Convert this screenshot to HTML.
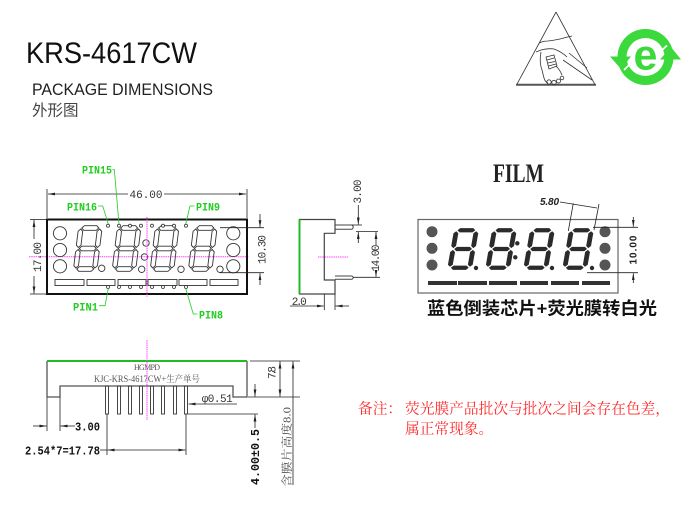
<!DOCTYPE html>
<html><head><meta charset="utf-8">
<style>
html,body{margin:0;padding:0;background:#fff;}
svg{display:block;}
.m{font-family:"Liberation Mono","Noto Serif CJK SC",monospace;font-size:11px;fill:#333;}
.b{font-family:"Liberation Mono",monospace;font-weight:bold;font-size:12px;fill:#111;}
.g{font-family:"Liberation Mono",monospace;font-weight:bold;font-size:11px;fill:#22cc22;}
.dl{stroke:#222;stroke-width:0.8;fill:none;}
</style></head><body>
<svg width="686" height="507" viewBox="0 0 686 507" xmlns="http://www.w3.org/2000/svg">
<defs>
<marker id="ar" viewBox="0 0 10 4" refX="10" refY="2" markerWidth="7" markerHeight="2.8" markerUnits="userSpaceOnUse" orient="auto-start-reverse">
<path d="M0,0 L10,2 L0,4 z" fill="#222"/></marker>
<g id="d">
<polygon points="3.5,2.5 5.8,0.2 18.2,0.2 20.5,2.5 18.2,4.8 5.8,4.8"/>
<polygon points="3.5,23 5.8,20.7 18.2,20.7 20.5,23 18.2,25.3 5.8,25.3"/>
<polygon points="3.5,43.5 5.8,41.2 18.2,41.2 20.5,43.5 18.2,45.8 5.8,45.8"/>
<polygon points="2.5,3.5 4.8,5.8 4.8,19.7 2.5,22 0.2,19.7 0.2,5.8"/>
<polygon points="21.5,3.5 23.8,5.8 23.8,19.7 21.5,22 19.2,19.7 19.2,5.8"/>
<polygon points="2.5,24 4.8,26.3 4.8,40.2 2.5,42.5 0.2,40.2 0.2,26.3"/>
<polygon points="21.5,24 23.8,26.3 23.8,40.2 21.5,42.5 19.2,40.2 19.2,26.3"/>
</g>
</defs>
<rect width="686" height="507" fill="#fff"/>

<!-- Title -->
<text x="26" y="63" font-family="Liberation Sans, sans-serif" font-size="30" fill="#111" textLength="171" lengthAdjust="spacingAndGlyphs">KRS-4617CW</text>
<text x="32" y="95" font-family="Liberation Sans, sans-serif" font-size="16.3" fill="#222" textLength="181" lengthAdjust="spacingAndGlyphs">PACKAGE DIMENSIONS</text>
<text x="32" y="115.5" font-family="Liberation Sans, 'Noto Sans CJK SC', sans-serif" font-size="15.5" fill="#444">外形图</text>

<!-- ESD icon -->
<g fill="none" stroke="#333" stroke-width="0.8">
<path d="M556,12 L516.7,84.7 M556,12 L595,84.7"/>
<path d="M516,84.7 L596,84.7" stroke-width="2" stroke="#555"/>
<path d="M539.3,43 Q543,41 548,41 Q556,40 562,38.5 Q567,37 572,36"/>
<path d="M536,52 L541,50 Q548,48 554,49 Q562,52 567,57"/>
<path d="M563,60 L592,80 M569,53 L587,68"/>
<path d="M541,52 Q539,62 542,70 L544,78 Q545,82 548,83"/>
<path d="M546,57 L554,55 L557,66 L549,69 Z M547,60 L554,58 M548,63 L555,61.5 M548.5,66 L556,64"/>
<path d="M556,66 Q560,70 562,75"/>
<circle cx="549" cy="82" r="2.2"/><circle cx="554" cy="82.5" r="2.2"/><circle cx="558.5" cy="81" r="2"/><circle cx="562" cy="78" r="1.8"/>
</g>

<!-- Green e icon -->
<circle cx="645.5" cy="57" r="28" fill="#3bd93b"/>
<circle cx="645.5" cy="57" r="19" fill="#fff"/>
<polygon points="610,56.5 631,56.5 621,69" fill="#3bd93b"/>
<polygon points="660,59.5 681,59.5 671,47" fill="#3bd93b"/>
<path d="M624,70 L631,63 M667,45.5 L660,52" stroke="#fff" stroke-width="1.8"/>
<text x="645.5" y="69.5" text-anchor="middle" font-family="Liberation Sans, sans-serif" font-weight="bold" font-size="43" fill="#3bd93b">e</text>

<!-- FRONT VIEW -->
<line x1="29" y1="256.7" x2="249" y2="256.7" stroke="#ff44ff" stroke-width="1" stroke-dasharray="1.5,0.7"/>
<rect x="47" y="219.5" width="200" height="74.5" fill="none" stroke="#111" stroke-width="2"/>
<g fill="none" stroke="#333" stroke-width="0.9">
<circle cx="60" cy="233.3" r="6.6"/><circle cx="60" cy="250" r="6.6"/><circle cx="60" cy="266.3" r="6.6"/>
<circle cx="233.3" cy="233.3" r="6.6"/><circle cx="233.3" cy="250" r="6.6"/><circle cx="233.3" cy="266.3" r="6.6"/>
<use href="#d" transform="translate(78.6,225.5) skewX(-7)"/>
<use href="#d" transform="translate(117.4,225.5) skewX(-7)"/>
<use href="#d" transform="translate(155.4,225.5) skewX(-7)"/>
<use href="#d" transform="translate(193.6,225.5) skewX(-7)"/>
<circle cx="101.7" cy="268.3" r="3.2"/><circle cx="141.7" cy="269.3" r="3.2"/><circle cx="181" cy="269.3" r="3.2"/><circle cx="220" cy="269.3" r="3.2"/>
<circle cx="146" cy="243" r="3.2"/><circle cx="144.5" cy="257" r="3.2"/>
<rect x="55" y="279.5" width="29" height="6"/><rect x="87" y="279.5" width="28" height="6"/><rect x="118" y="279.5" width="28" height="6"/>
<rect x="148" y="279.5" width="29" height="6"/><rect x="179" y="279.5" width="28" height="6"/><rect x="210" y="279.5" width="28" height="6"/>
</g>
<g fill="#fff" stroke="#333" stroke-width="0.8">
<circle cx="108" cy="225.7" r="1.5"/><circle cx="119" cy="225.7" r="1.5"/><circle cx="130" cy="225.7" r="1.5"/><circle cx="141" cy="225.7" r="1.5"/>
<circle cx="152" cy="225.7" r="1.5"/><circle cx="163" cy="225.7" r="1.5"/><circle cx="174" cy="225.7" r="1.5"/><circle cx="186" cy="225.7" r="1.5"/>
<circle cx="108" cy="287" r="1.5"/><circle cx="119" cy="287" r="1.5"/><circle cx="130" cy="287" r="1.5"/><circle cx="141" cy="287" r="1.5"/>
<circle cx="152" cy="287" r="1.5"/><circle cx="163" cy="287" r="1.5"/><circle cx="174" cy="287" r="1.5"/><circle cx="186" cy="287" r="1.5"/>
</g>
<line x1="147" y1="217" x2="147" y2="297" stroke="#ff44ff" stroke-width="1" stroke-dasharray="1.5,0.7"/>

<!-- front dims -->
<g class="dl">
<line x1="47" y1="189" x2="47" y2="218"/><line x1="247" y1="189" x2="247" y2="218"/>
<line x1="128" y1="194" x2="48" y2="194" marker-end="url(#ar)"/>
<line x1="164" y1="194" x2="246" y2="194" marker-end="url(#ar)"/>
<line x1="30" y1="219.5" x2="46" y2="219.5"/><line x1="30" y1="294" x2="46" y2="294"/>
<line x1="34" y1="239" x2="34" y2="220" marker-end="url(#ar)"/>
<line x1="34" y1="276" x2="34" y2="293.5" marker-end="url(#ar)"/>
<line x1="220" y1="227.7" x2="264" y2="227.7"/><line x1="220" y1="272.7" x2="264" y2="272.7"/>
<line x1="260" y1="214" x2="260" y2="227.2" marker-end="url(#ar)"/>
<line x1="260" y1="285" x2="260" y2="273.2" marker-end="url(#ar)"/>
</g>
<text class="m" x="146" y="198" text-anchor="middle" textLength="33">46.00</text>
<text class="m" transform="translate(39,257) rotate(-90)" text-anchor="middle" dominant-baseline="central" textLength="30">17.00</text>
<text class="m" transform="translate(263.5,249.5) rotate(-90)" text-anchor="middle" dominant-baseline="central" textLength="29">10.30</text>

<!-- PIN labels -->
<g stroke="#22cc22" stroke-width="0.8" fill="none">
<polyline points="112.5,169.5 114.3,169.5 119,224"/>
<polyline points="98,206 102.7,206 108.3,224"/>
<polyline points="194.5,206 190,206 185.7,224"/>
<polyline points="99,305.7 105,305.7 108.3,288.5"/>
<polyline points="197.5,314 193.3,314 185.7,288.5"/>
</g>
<text class="g" x="82" y="173.5" textLength="30" lengthAdjust="spacingAndGlyphs">PIN15</text>
<text class="g" x="67" y="210.5" textLength="30" lengthAdjust="spacingAndGlyphs">PIN16</text>
<text class="g" x="196" y="210.5" textLength="24" lengthAdjust="spacingAndGlyphs">PIN9</text>
<text class="g" x="73" y="310.5" textLength="25" lengthAdjust="spacingAndGlyphs">PIN1</text>
<text class="g" x="199" y="318.5" textLength="24" lengthAdjust="spacingAndGlyphs">PIN8</text>

<!-- SIDE VIEW -->
<line x1="318" y1="257" x2="348" y2="257" stroke="#ff44ff" stroke-width="1" stroke-dasharray="1.5,0.7"/>
<path d="M299,219.5 L335,219.5 L335,233.3 L324.3,233.3 L324.3,280 L335,280 L335,294 L299,294" fill="none" stroke="#444" stroke-width="1.2"/>
<line x1="299.5" y1="219.5" x2="299.5" y2="294" stroke="#22bb22" stroke-width="2"/>
<path d="M335,225 L352,225 Q354.5,227.2 352,229.3 L335,229.3" fill="none" stroke="#444" stroke-width="1"/>
<path d="M335,276 L352,276 Q354.5,277.7 352,279.3 L335,279.3" fill="none" stroke="#444" stroke-width="1"/>
<g class="dl">
<line x1="351.7" y1="225" x2="362" y2="225"/>
<line x1="356" y1="231.5" x2="378" y2="231.5"/>
<line x1="353" y1="277.3" x2="380" y2="277.3"/>
<line x1="358.3" y1="205" x2="358.3" y2="224.5" marker-end="url(#ar)"/>
<line x1="358.3" y1="243" x2="358.3" y2="232" marker-end="url(#ar)"/>
<line x1="376" y1="245" x2="376" y2="232" marker-end="url(#ar)"/>
<line x1="376" y1="271" x2="376" y2="276.8" marker-end="url(#ar)"/>
<line x1="324.3" y1="294" x2="324.3" y2="310"/><line x1="335" y1="294" x2="335" y2="310"/>
<line x1="290" y1="306" x2="323.8" y2="306" marker-end="url(#ar)"/>
<line x1="349" y1="306" x2="335.5" y2="306" marker-end="url(#ar)"/>
</g>
<text class="m" transform="translate(359,191.5) rotate(-90)" text-anchor="middle" dominant-baseline="central" textLength="24">3.00</text>
<text class="m" transform="translate(377,258) rotate(-90)" text-anchor="middle" dominant-baseline="central" textLength="27">14.00</text>
<text class="m" x="291.7" y="305" textLength="15">2.0</text>

<!-- FILM -->
<text x="493" y="182" font-family="Liberation Serif, serif" font-weight="bold" font-size="26" fill="#222" textLength="51" lengthAdjust="spacingAndGlyphs">FILM</text>
<rect x="418" y="219.5" width="200" height="73.5" fill="none" stroke="#666" stroke-width="1.2"/>
<g fill="#555">
<circle cx="432" cy="231.7" r="5.5"/><circle cx="432" cy="248.3" r="5.5"/><circle cx="432" cy="265" r="5.5"/>
<circle cx="605" cy="231.7" r="5.5"/><circle cx="605" cy="248.3" r="5.5"/><circle cx="605" cy="265" r="5.5"/>
</g>
<g fill="#2b2b2b">
<use href="#d" transform="translate(454.2,228) skewX(-10) scale(1.05,0.913)"/>
<use href="#d" transform="translate(492.2,228) skewX(-10) scale(1.05,0.913)"/>
<use href="#d" transform="translate(530.2,228) skewX(-10) scale(1.05,0.913)"/>
<use href="#d" transform="translate(569.2,228) skewX(-10) scale(1.05,0.913)"/>
<circle cx="476" cy="268" r="2.2"/><circle cx="517.3" cy="243.3" r="2.2"/><circle cx="515.3" cy="257.3" r="2.2"/>
<circle cx="552" cy="268" r="2.2"/><circle cx="592" cy="268" r="2.2"/>
</g>
<g fill="#333">
<rect x="428" y="281" width="29" height="4"/><rect x="458" y="281" width="29" height="4"/><rect x="489" y="281" width="28" height="4"/>
<rect x="520" y="281" width="28" height="4"/><rect x="551" y="281" width="28" height="4"/><rect x="582" y="281" width="28" height="4"/>
</g>
<g class="dl">
<line x1="560" y1="202" x2="597" y2="208"/>
<line x1="573.3" y1="203.3" x2="568.3" y2="231"/>
<line x1="599" y1="204" x2="594" y2="230"/>
<line x1="593" y1="227.3" x2="638" y2="227.3"/>
<line x1="587" y1="272.7" x2="638" y2="272.7"/>
<line x1="633.3" y1="217" x2="633.3" y2="226.8" marker-end="url(#ar)"/>
<line x1="633.3" y1="283" x2="633.3" y2="273.2" marker-end="url(#ar)"/>
</g>
<text x="540" y="205" font-family="Liberation Sans, sans-serif" font-weight="bold" font-style="italic" font-size="10" fill="#222" textLength="19">5.80</text>
<text transform="translate(634,250) rotate(-90)" text-anchor="middle" dominant-baseline="central" font-family="Liberation Sans, sans-serif" font-weight="bold" font-size="10" fill="#222" textLength="29">10.00</text>
<text x="427" y="314.5" font-family="Liberation Sans, 'Noto Sans CJK SC', sans-serif" font-weight="bold" font-size="17.5" fill="#111" textLength="230" lengthAdjust="spacingAndGlyphs">蓝色倒装芯片+荧光膜转白光</text>

<!-- BOTTOM VIEW -->
<path d="M47,397 L47,361 M247,361 L247,397 L233,397 L233,386 L60,386 L60,397 L47,397" fill="none" stroke="#555" stroke-width="1.3"/>
<line x1="47" y1="361" x2="247" y2="361" stroke="#22bb22" stroke-width="2"/>
<g fill="none" stroke="#333" stroke-width="0.9">
<rect x="105.5" y="386" width="3" height="28"/><rect x="117.5" y="386" width="3" height="28"/>
<rect x="128.5" y="386" width="3" height="28"/><rect x="139.5" y="386" width="3" height="28"/>
<rect x="150.5" y="386" width="3" height="28"/><rect x="161.5" y="386" width="3" height="28"/>
<rect x="173.5" y="386" width="3" height="28"/><rect x="184.5" y="386" width="3" height="28"/>
</g>
<text x="147" y="370" text-anchor="middle" font-family="Liberation Serif, serif" font-size="8" fill="#555" textLength="26">HGMPD</text>
<text x="94" y="382" font-family="Liberation Serif, 'Noto Serif CJK SC', serif" font-size="9" fill="#555" textLength="106" lengthAdjust="spacingAndGlyphs">KJC-KRS-4617CW+生产单号</text>
<line x1="147" y1="340" x2="147" y2="420" stroke="#ff44ff" stroke-width="1" stroke-dasharray="1.5,0.7"/>
<g class="dl">
<line x1="47" y1="397" x2="47" y2="431"/><line x1="60" y1="397" x2="60" y2="431"/>
<line x1="33" y1="426" x2="46.5" y2="426" marker-end="url(#ar)"/>
<line x1="75" y1="426" x2="60.5" y2="426" marker-end="url(#ar)"/>
<line x1="107" y1="414" x2="107" y2="455"/><line x1="186" y1="414" x2="186" y2="455"/>
<line x1="107.5" y1="450" x2="185.5" y2="450" marker-start="url(#ar)" marker-end="url(#ar)"/>
<line x1="100" y1="450" x2="107" y2="450"/>
<line x1="237" y1="404" x2="188.5" y2="404" marker-end="url(#ar)"/>
<line x1="188" y1="414" x2="258" y2="414"/>
<line x1="255" y1="428" x2="255" y2="414.5" marker-end="url(#ar)"/>
<line x1="250" y1="361" x2="300" y2="361"/><line x1="248" y1="397" x2="300" y2="397"/>
<line x1="255" y1="384" x2="255" y2="396.5" marker-end="url(#ar)"/>
<line x1="280" y1="361.5" x2="280" y2="396.5" marker-start="url(#ar)" marker-end="url(#ar)"/>
<line x1="293" y1="485" x2="293" y2="361.5" marker-end="url(#ar)"/>
</g>
<text class="b" x="75" y="430.5" textLength="25" lengthAdjust="spacingAndGlyphs">3.00</text>
<text class="b" x="25" y="454.5" textLength="75" lengthAdjust="spacingAndGlyphs">2.54*7=17.78</text>
<text class="m" x="201.7" y="402" font-size="10" textLength="31">φ0.51</text>
<text class="b" transform="translate(256,457) rotate(-90)" text-anchor="middle" dominant-baseline="central" textLength="56" lengthAdjust="spacingAndGlyphs">4.00±0.5</text>
<text class="m" transform="translate(273.5,372.5) rotate(-90)" text-anchor="middle" dominant-baseline="central" font-size="10" textLength="13">7.8</text>
<text transform="translate(287.5,447) rotate(-90)" text-anchor="middle" dominant-baseline="central" font-family="Liberation Serif, 'Noto Serif CJK SC', serif" font-size="11" fill="#555" textLength="80" lengthAdjust="spacingAndGlyphs">含膜片高度8.0</text>

<!-- Red note -->
<text x="358" y="413.5" font-family="Liberation Serif, 'Noto Serif CJK SC', serif" font-size="14.7" fill="#ff2a2a">备注：</text>
<text x="405" y="413.5" font-family="Liberation Serif, 'Noto Serif CJK SC', serif" font-size="14.7" fill="#ff2a2a" textLength="265" lengthAdjust="spacingAndGlyphs">荧光膜产品批次与批次之间会存在色差，</text>
<text x="405" y="433.5" font-family="Liberation Serif, 'Noto Serif CJK SC', serif" font-size="14.7" fill="#ff2a2a">属正常现象。</text>
</svg>
</body></html>
